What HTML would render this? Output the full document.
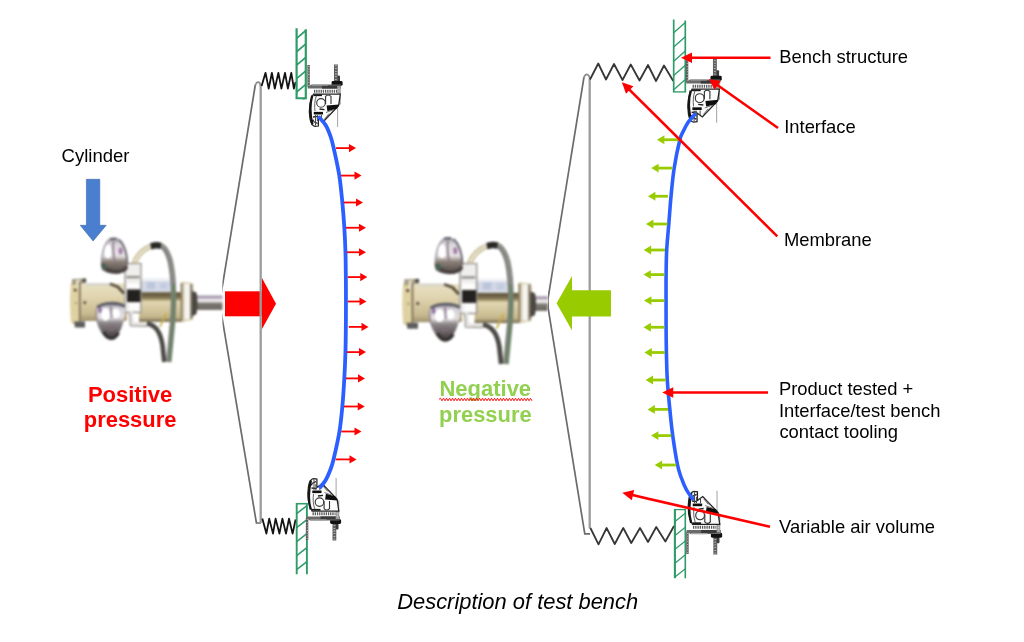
<!DOCTYPE html>
<html lang="en">
<head>
<meta charset="utf-8">
<title>Description of test bench</title>
<style>
html,body{margin:0;padding:0;background:#ffffff;}
body{width:1024px;height:642px;overflow:hidden;position:relative;}
svg{display:block;position:absolute;left:0;top:0;}
text{font-family:"Liberation Sans",Arial,Helvetica,sans-serif;}
</style>
</head>
<body>
<svg width="1024" height="642" viewBox="0 0 1024 642">
<defs>
<filter color-interpolation-filters="sRGB" id="soft2" x="-5%" y="-5%" width="110%" height="110%"><feGaussianBlur stdDeviation="0.8"/></filter>
<filter color-interpolation-filters="sRGB" id="soft3" x="-5%" y="-5%" width="110%" height="110%"><feGaussianBlur stdDeviation="0.35"/></filter>
<linearGradient id="gBody" x1="0" y1="0" x2="0" y2="1"><stop offset="0" stop-color="#e8e0c2"/><stop offset="0.35" stop-color="#e0d5b0"/><stop offset="0.8" stop-color="#c9bb90"/><stop offset="1" stop-color="#a09270"/></linearGradient>
<linearGradient id="gRod" x1="0" y1="0" x2="0" y2="1"><stop offset="0" stop-color="#b8aebc"/><stop offset="0.16" stop-color="#a898ae"/><stop offset="0.3" stop-color="#f0eef0"/><stop offset="0.46" stop-color="#dcdad8"/><stop offset="0.56" stop-color="#7c7872"/><stop offset="1" stop-color="#6a6660"/></linearGradient><linearGradient id="gBand" x1="0" y1="0" x2="0" y2="1"><stop offset="0" stop-color="#5c5238"/><stop offset="0.6" stop-color="#7c7050"/><stop offset="1" stop-color="#c8bb8c"/></linearGradient>
<linearGradient id="gAcc" x1="0" y1="0" x2="0" y2="1"><stop offset="0" stop-color="#8e8a94"/><stop offset="0.18" stop-color="#dcd8de"/><stop offset="0.5" stop-color="#e6e2e4"/><stop offset="0.66" stop-color="#8b8078"/><stop offset="1" stop-color="#4d4442"/></linearGradient>
<linearGradient id="gAcc2" x1="0" y1="0" x2="0" y2="1"><stop offset="0" stop-color="#74727c"/><stop offset="0.16" stop-color="#d4d0d6"/><stop offset="0.42" stop-color="#e2dee2"/><stop offset="0.56" stop-color="#8c8688"/><stop offset="0.8" stop-color="#625c5e"/><stop offset="1" stop-color="#3a3436"/></linearGradient>
<filter color-interpolation-filters="sRGB" id="gs" x="0" y="0" width="1024" height="642" filterUnits="userSpaceOnUse"><feGaussianBlur stdDeviation="0.45"/></filter>
</defs>
<rect x="0" y="0" width="1024" height="642" fill="#ffffff"/>
<g filter="url(#gs)">
<path d="M255.3,85 L219.6,303 L256.4,523 H261" fill="none" stroke="#6c6c6c" stroke-width="1.7"/>
<path d="M255.1,86 Q256.2,82.3 258,82.2 Q260.4,82.3 260.6,86" fill="none" stroke="#8c8c8c" stroke-width="1.7"/>
<g transform="translate(0,0) scale(1,1)">
<rect x="65" y="237" width="157.4" height="125" fill="#ffffff"/>
<g filter="url(#soft2)">
<rect x="193" y="295.3" width="29.5" height="14.6" fill="url(#gRod)"/>
<rect x="79" y="283.5" width="48" height="37.5" rx="2" fill="url(#gBody)"/>
<path d="M71,282.5 Q69,302 71,323 L80,326 L80,280 Z" fill="#dfd2a2"/>
<path d="M72,279 L86,278.5 L86,283 L72,285 Z" fill="#a49c86"/><rect x="82.5" y="278.6" width="3.6" height="3.6" fill="#4c4a48"/>
<path d="M76,280 L80,280 L79.5,289 L76.5,289 Z" fill="#e9e2c8"/>
<rect x="78.8" y="282" width="2" height="42" fill="#8a7c62"/>
<path d="M74,321.5 L85,321.5 L85,327.5 L75,327.5 Z" fill="#5e5c5c"/>
<rect x="86" y="283" width="26" height="2.6" fill="#d6d4cc"/>
<circle cx="84.8" cy="302.6" r="1.6" fill="#6a5a4a"/>
<circle cx="75.2" cy="290" r="1.6" fill="#5a4c40"/>
<circle cx="76" cy="303" r="1.1" fill="#a09070"/>
<path d="M110,283.8 L118,287 L124,293.5" stroke="#5a5040" stroke-width="2.8" fill="none"/>
<rect x="139" y="292" width="46" height="29.5" fill="url(#gBody)"/>
<rect x="141" y="278.5" width="32" height="13.5" fill="#d3d8e6"/>
<rect x="141" y="278.5" width="32" height="2.6" fill="#f0f1f6"/>
<rect x="147" y="282" width="8" height="7" fill="#bcc6dc"/>
<rect x="160" y="283" width="7" height="6" fill="#c4cce0"/>
<rect x="139" y="292.3" width="42" height="8.6" fill="url(#gBand)"/>
<rect x="139" y="319.5" width="44" height="2.4" fill="#857a5c"/>
<path d="M181.5,281.5 L193,283 Q196,301 193,320 L181.5,322 Z" fill="#dcd4b6"/>
<rect x="184.6" y="284" width="5.4" height="35" fill="#f6f4f0"/><rect x="190" y="284" width="2.4" height="35" fill="#8c8474"/>
<rect x="180.6" y="283" width="2" height="38" fill="#8a7f66"/>
<path d="M192,291 L196.5,292.5 Q198.6,302 196.5,314 L192,316.5 Z" fill="#4a4640"/>
<rect x="125" y="263.5" width="16" height="49" fill="#efeeec"/>
<rect x="125" y="263.5" width="16" height="49" fill="none" stroke="#96928e" stroke-width="1.3"/>
<rect x="126.5" y="276" width="13" height="2.2" fill="#8c8884"/>
<rect x="127" y="283" width="12" height="5" fill="#fdfdfd"/>
<rect x="127" y="289.5" width="13.5" height="12.5" fill="#242220"/>
<rect x="129" y="303.5" width="10" height="7" fill="#fdfdfd"/>
<path d="M131,312 L132,324 L148,324.5" fill="none" stroke="#e4e2de" stroke-width="3.6"/>
<path d="M129.4,313 L130.2,326 L147,326.4" fill="none" stroke="#8a8680" stroke-width="1"/>
<path d="M166.4,313 L160,327" fill="none" stroke="#c8ac48" stroke-width="1.8"/>
<path d="M147,323.5 C156,325 160.5,332 162.5,345 L164.3,362" fill="none" stroke="#4c4a46" stroke-width="4.6"/>
<path d="M134,263 C138,254 143,249.5 150,246.5" fill="none" stroke="#c9bf9a" stroke-width="5.2"/>
<path d="M134.4,262 C138.5,254 143.4,249.4 150,246.5" fill="none" stroke="#f2eedc" stroke-width="1.8"/>
<path d="M152,245.8 C161,242.6 166.5,247 170.4,262 C174.2,280 174.2,300 172.6,322 L168.8,362" fill="none" stroke="#7e7d78" stroke-width="5.4"/>
<path d="M158,245 C164,245 167.5,249 170.6,262 C173,273 173.6,284 173.6,292" fill="none" stroke="#b0b2b4" stroke-width="1.5" stroke-dasharray="1.4 1.4"/>
<path d="M173.6,284 C174.4,300 174.2,312 173.2,324 L169.8,361.5" fill="none" stroke="#5c8c5a" stroke-width="1.5"/>
<path d="M150.6,246.4 L156,245.2 L160.8,245.8" fill="none" stroke="#2a2826" stroke-width="6.2"/>
<path d="M109,238.6 C115,236.6 122.5,238.5 125.5,247 C128.4,255.5 129,264 126.5,270.5 C120,275.4 108,274.8 101.8,269.6 C99.4,262 101.4,246 109,238.6 Z" fill="url(#gAcc)"/>
<path d="M102.2,264 C108,273.5 121,274.5 127,267" fill="none" stroke="#4a4240" stroke-width="3.4"/>
<path d="M110,239 L116.5,238.4" fill="none" stroke="#5a5860" stroke-width="2"/>
<path d="M119,239.4 C125,246 127.3,255 127.3,264" fill="none" stroke="#6a6870" stroke-width="1.8"/>
<path d="M108,240.5 C103.5,246 101.8,255 102,262" fill="none" stroke="#9a96a0" stroke-width="1.3"/>
<path d="M113.5,241.5 C112.5,249 113.5,256 115,262" fill="none" stroke="#8a7c88" stroke-width="1.7"/>
<ellipse cx="108" cy="251.5" rx="3.6" ry="7" fill="#ffffff"/>
<ellipse cx="120.6" cy="251" rx="1.9" ry="3.4" fill="#a47aa6"/>
<ellipse cx="104.5" cy="267" rx="2.4" ry="3" fill="#476454"/>
<path d="M97.4,306 C105,300.5 119,301 124.8,306 C126,315 123,328 117,336 C113,340.4 107,340 103.6,335.4 C97,328 94.4,315 97.4,306 Z" fill="url(#gAcc2)"/>
<path d="M103.5,332 C108,340.5 114,340.5 118.6,333" fill="none" stroke="#34302e" stroke-width="3.2"/>
<path d="M97,307.6 C103,302 119,302 124.6,306.6" fill="none" stroke="#5c5a64" stroke-width="2.8"/>
<path d="M96.4,309 C95.4,316 97.6,326 102,332" fill="none" stroke="#8e8690" stroke-width="1.4"/>
<ellipse cx="105.5" cy="314.5" rx="4.6" ry="6.4" fill="#ffffff"/><ellipse cx="116" cy="313.5" rx="4" ry="5" fill="#ffffff"/><path d="M110.8,306 L111.6,318" stroke="#8c7a94" stroke-width="1.6" fill="none"/>
<ellipse cx="100" cy="310" rx="1.6" ry="3" fill="#8a6aa0"/>
<ellipse cx="111" cy="328" rx="4" ry="2.4" fill="#7c6c74"/>
</g>
</g>
<rect x="225" y="291.3" width="37.5" height="25" fill="#ff0000"/>
<line x1="260.7" y1="84.5" x2="260.7" y2="523" stroke="#9c9c9c" stroke-width="2.3"/>
<polygon points="262,278 276,303.7 262,329" fill="#ff0000"/>
<path d="M261.6,86 L265.5,72.8 L268.7,88.6 L271.9,72.8 L274.8,88.6 L278.4,72.8 L281.4,88.6 L285,72.8 L287.9,88.6 L291.3,72.8 L293.9,88.6 L295.6,82" fill="none" stroke="#141414" stroke-width="1.8" stroke-linejoin="round" filter="url(#soft3)"/>
<path d="M262.3,518.6 L266.4,533.6 L269.2,518.6 L273,533.6 L275.6,518.6 L279.4,533.6 L282.4,518.6 L286,533.6 L289,518.6 L292.6,533.6 L295.6,519.5" fill="none" stroke="#141414" stroke-width="1.8" stroke-linejoin="round" filter="url(#soft3)"/>
<clipPath id="hc1"><rect x="293.3" y="27.2" width="15.8" height="72.2"/></clipPath>
<g stroke="#2e9b68" stroke-width="2.2" fill="none" clip-path="url(#hc1)">
<path d="M296.6,28.3 V98.3 H305.8 V29.3"/>
<line x1="296.6" y1="38.3" x2="305.8" y2="30.5" stroke-width="1.72"/>
<line x1="296.6" y1="51.75" x2="305.8" y2="43.95" stroke-width="1.72"/>
<line x1="296.6" y1="65.2" x2="305.8" y2="57.4" stroke-width="1.72"/>
<line x1="296.6" y1="78.65" x2="305.8" y2="70.85" stroke-width="1.72"/>
<line x1="296.6" y1="92.1" x2="305.8" y2="84.3" stroke-width="1.72"/>
<line x1="296.6" y1="105.55" x2="305.8" y2="97.75" stroke-width="1.72"/>
</g>
<clipPath id="hc2"><rect x="293.85" y="502.65" width="15.9" height="71.5"/></clipPath>
<g stroke="#2e9b68" stroke-width="1.9" fill="none" clip-path="url(#hc2)">
<path d="M296.7,575.2 V503.6 H306.9 V575.2"/>
<line x1="296.7" y1="513.6" x2="306.9" y2="505.6" stroke-width="1.48"/>
<line x1="296.7" y1="527.6" x2="306.9" y2="519.6" stroke-width="1.48"/>
<line x1="296.7" y1="541.6" x2="306.9" y2="533.6" stroke-width="1.48"/>
<line x1="296.7" y1="555.6" x2="306.9" y2="547.6" stroke-width="1.48"/>
<line x1="296.7" y1="569.6" x2="306.9" y2="561.6" stroke-width="1.48"/>
</g>
<g transform="translate(306,66) scale(1) translate(-306,-66)">
<rect x="311" y="42" width="26" height="42" fill="#ffffff"/>
<rect x="307.4" y="65" width="2.4" height="22" fill="#5c5c5c"/>
<line x1="308.8" y1="66" x2="308.8" y2="86" stroke="#cccccc" stroke-width="1.2" stroke-dasharray="0.8 1.9"/>
<rect x="334" y="64.5" width="3.8" height="17.5" fill="#5e5e5e"/>
<line x1="335.9" y1="65.5" x2="335.9" y2="81" stroke="#cccccc" stroke-width="1.8" stroke-dasharray="0.8 1.9"/>
<rect x="337.4" y="75.5" width="2.6" height="6.5" rx="1" fill="#3c3c3c"/>
<rect x="331.6" y="81" width="11" height="4.8" rx="1.4" fill="#121212"/>
<path d="M307.8,87 L311.5,84.6 H341 V88.6 H307.8 Z" fill="#6a6a6a"/>
<rect x="322" y="85.6" width="19" height="3" fill="#3a3a3a"/>
<rect x="312" y="84.3" width="16" height="1.3" fill="#a8a8a8"/>
<line x1="314" y1="91.2" x2="337" y2="91.2" stroke="#5a5a5a" stroke-width="3" stroke-dasharray="1.3 0.9"/>
<rect x="337.2" y="86" width="3.6" height="18.5" fill="#a0a0a0"/>
<line x1="339" y1="88" x2="339" y2="102" stroke="#d0d0d0" stroke-width="1" stroke-dasharray="1.2 1.2"/>
<line x1="337.6" y1="104" x2="337.6" y2="127" stroke="#a4a4a4" stroke-width="1"/>
<path d="M313.5,94 C310,100 308.6,110 310,119 C310.8,123 312.5,126 315,126.4 L318.4,126 L318.4,117.5 L323.6,121.3 L338.6,105.6 L340.3,94 Z" fill="#fbfbfb" stroke="#242424" stroke-width="1.25"/>
<path d="M312.2,95.5 C309.8,104 309.8,114 312.4,124.5" fill="none" stroke="#141414" stroke-width="2.3"/>
<path d="M313,117 L318,116.4 M313.4,121.5 L317.6,123.5 M319.5,109 L324.5,109.6" fill="none" stroke="#222" stroke-width="1.3"/>
<path d="M316.3,96 C314.6,101 314.3,106 315,111" fill="none" stroke="#555" stroke-width="0.9"/>
<path d="M313.5,95.2 H322" fill="none" stroke="#1a1a1a" stroke-width="1.8"/>
<circle cx="321" cy="102.9" r="4.3" fill="#ffffff" stroke="#3a3a3a" stroke-width="1.15"/>
<path d="M325.6,104 V96.4 Q328.2,93.6 331,96.4 V104" fill="#ffffff" stroke="#333" stroke-width="1.1"/>
<path d="M326.6,105.6 L339.4,104.6 L336.6,108.8 L327.4,111.2 Z" fill="#0e0e0e"/>
<rect x="313.8" y="111.9" width="9.2" height="2.6" fill="#0e0e0e"/>
<path d="M315.5,115 V125.5 M317.4,115 V121 M321.4,115 V119.5" stroke="#4a4a4a" stroke-width="1" fill="none"/>
<path d="M326,112.5 L333,110 M324.6,119 L329,113.6 M327,117.6 L331,113" stroke="#555" stroke-width="0.8" fill="none"/>
<circle cx="313" cy="120.5" r="1" fill="#1a1a1a"/>
</g>
<g transform="translate(304.5,539) scale(1,-1) translate(-306,-66)">
<rect x="311" y="42" width="26" height="42" fill="#ffffff"/>
<rect x="307.4" y="65" width="2.4" height="22" fill="#5c5c5c"/>
<line x1="308.8" y1="66" x2="308.8" y2="86" stroke="#cccccc" stroke-width="1.2" stroke-dasharray="0.8 1.9"/>
<rect x="334" y="64.5" width="3.8" height="17.5" fill="#5e5e5e"/>
<line x1="335.9" y1="65.5" x2="335.9" y2="81" stroke="#cccccc" stroke-width="1.8" stroke-dasharray="0.8 1.9"/>
<rect x="337.4" y="75.5" width="2.6" height="6.5" rx="1" fill="#3c3c3c"/>
<rect x="331.6" y="81" width="11" height="4.8" rx="1.4" fill="#121212"/>
<path d="M307.8,87 L311.5,84.6 H341 V88.6 H307.8 Z" fill="#6a6a6a"/>
<rect x="322" y="85.6" width="19" height="3" fill="#3a3a3a"/>
<rect x="312" y="84.3" width="16" height="1.3" fill="#a8a8a8"/>
<line x1="314" y1="91.2" x2="337" y2="91.2" stroke="#5a5a5a" stroke-width="3" stroke-dasharray="1.3 0.9"/>
<rect x="337.2" y="86" width="3.6" height="18.5" fill="#a0a0a0"/>
<line x1="339" y1="88" x2="339" y2="102" stroke="#d0d0d0" stroke-width="1" stroke-dasharray="1.2 1.2"/>
<line x1="337.6" y1="104" x2="337.6" y2="127" stroke="#a4a4a4" stroke-width="1"/>
<path d="M313.5,94 C310,100 308.6,110 310,119 C310.8,123 312.5,126 315,126.4 L318.4,126 L318.4,117.5 L323.6,121.3 L338.6,105.6 L340.3,94 Z" fill="#fbfbfb" stroke="#242424" stroke-width="1.25"/>
<path d="M312.2,95.5 C309.8,104 309.8,114 312.4,124.5" fill="none" stroke="#141414" stroke-width="2.3"/>
<path d="M313,117 L318,116.4 M313.4,121.5 L317.6,123.5 M319.5,109 L324.5,109.6" fill="none" stroke="#222" stroke-width="1.3"/>
<path d="M316.3,96 C314.6,101 314.3,106 315,111" fill="none" stroke="#555" stroke-width="0.9"/>
<path d="M313.5,95.2 H322" fill="none" stroke="#1a1a1a" stroke-width="1.8"/>
<circle cx="321" cy="102.9" r="4.3" fill="#ffffff" stroke="#3a3a3a" stroke-width="1.15"/>
<path d="M325.6,104 V96.4 Q328.2,93.6 331,96.4 V104" fill="#ffffff" stroke="#333" stroke-width="1.1"/>
<path d="M326.6,105.6 L339.4,104.6 L336.6,108.8 L327.4,111.2 Z" fill="#0e0e0e"/>
<rect x="313.8" y="111.9" width="9.2" height="2.6" fill="#0e0e0e"/>
<path d="M315.5,115 V125.5 M317.4,115 V121 M321.4,115 V119.5" stroke="#4a4a4a" stroke-width="1" fill="none"/>
<path d="M326,112.5 L333,110 M324.6,119 L329,113.6 M327,117.6 L331,113" stroke="#555" stroke-width="0.8" fill="none"/>
<circle cx="313" cy="120.5" r="1" fill="#1a1a1a"/>
</g>
<path d="M318.9,117.6 C319.98,118.92 323.5,122.27 325.4,125.5 C327.3,128.73 329,133.25 330.3,137 C331.6,140.75 331.79,141.67 333.2,148 C334.61,154.33 337.3,165.92 338.75,175 C340.2,184.08 341.04,193.67 341.9,202.5 C342.76,211.33 343.38,219.75 343.9,228 C344.42,236.25 344.75,243.83 345,252 C345.25,260.17 345.32,268.67 345.4,277 C345.48,285.33 345.5,293.67 345.5,302 C345.5,310.33 345.48,318.67 345.4,327 C345.32,335.33 345.25,343.5 345,352 C344.75,360.5 344.42,368.92 343.9,378 C343.38,387.08 342.72,397.58 341.9,406.5 C341.08,415.42 340.45,422.75 339,431.5 C337.55,440.25 334.73,452.58 333.2,459 C331.67,465.42 331.12,466.5 329.8,470 C328.48,473.5 326.93,477.17 325.3,480 C323.67,482.83 320.88,485.83 320,487" fill="none" stroke="#2b5fff" stroke-width="3.8" transform="translate(0.45,0)" stroke-linecap="round"/>
<line x1="336" y1="148.1" x2="349.5" y2="148.1" stroke="#ff0000" stroke-width="1.8"/><polygon points="356,148.1 349,144 349,152.2" fill="#ff0000"/>
<line x1="341" y1="175.6" x2="355" y2="175.6" stroke="#ff0000" stroke-width="1.8"/><polygon points="361.5,175.6 354.5,171.5 354.5,179.7" fill="#ff0000"/>
<line x1="343.75" y1="202.5" x2="356.5" y2="202.5" stroke="#ff0000" stroke-width="1.8"/><polygon points="363,202.5 356,198.4 356,206.6" fill="#ff0000"/>
<line x1="346" y1="227.75" x2="359.5" y2="227.75" stroke="#ff0000" stroke-width="1.8"/><polygon points="366,227.75 359,223.65 359,231.85" fill="#ff0000"/>
<line x1="347" y1="252.25" x2="359.5" y2="252.25" stroke="#ff0000" stroke-width="1.8"/><polygon points="366,252.25 359,248.15 359,256.35" fill="#ff0000"/>
<line x1="347.75" y1="277.1" x2="360.75" y2="277.1" stroke="#ff0000" stroke-width="1.8"/><polygon points="367.25,277.1 360.25,273 360.25,281.2" fill="#ff0000"/>
<line x1="347.75" y1="301.5" x2="360" y2="301.5" stroke="#ff0000" stroke-width="1.8"/><polygon points="366.5,301.5 359.5,297.4 359.5,305.6" fill="#ff0000"/>
<line x1="348.75" y1="326.9" x2="362" y2="326.9" stroke="#ff0000" stroke-width="1.8"/><polygon points="368.5,326.9 361.5,322.8 361.5,331" fill="#ff0000"/>
<line x1="347" y1="352.1" x2="359.5" y2="352.1" stroke="#ff0000" stroke-width="1.8"/><polygon points="366,352.1 359,348 359,356.2" fill="#ff0000"/>
<line x1="346" y1="378.4" x2="358.5" y2="378.4" stroke="#ff0000" stroke-width="1.8"/><polygon points="365,378.4 358,374.3 358,382.5" fill="#ff0000"/>
<line x1="344" y1="406.5" x2="358.25" y2="406.5" stroke="#ff0000" stroke-width="1.8"/><polygon points="364.75,406.5 357.75,402.4 357.75,410.6" fill="#ff0000"/>
<line x1="341.25" y1="431.5" x2="355" y2="431.5" stroke="#ff0000" stroke-width="1.8"/><polygon points="361.5,431.5 354.5,427.4 354.5,435.6" fill="#ff0000"/>
<line x1="335.6" y1="459.4" x2="350" y2="459.4" stroke="#ff0000" stroke-width="1.8"/><polygon points="356.5,459.4 349.5,455.3 349.5,463.5" fill="#ff0000"/>
<polygon points="86.4,179.3 99.8,179.3 99.8,225.3 106.2,225.3 93.1,241 80.2,225.3 86.4,225.3" fill="#4a7fd0" stroke="#3a66aa" stroke-width="0.6"/>
<text x="61.6" y="162.3" font-size="18.5" fill="#000000">Cylinder</text>
<text x="130.1" y="402" font-size="22" font-weight="bold" fill="#ff0000" text-anchor="middle">Positive</text>
<text x="130.1" y="427.3" font-size="21.9" font-weight="bold" fill="#ff0000" text-anchor="middle">pressure</text>
<path d="M584,77 L548.1,298 V308 L584.8,533.8 H590" fill="none" stroke="#6c6c6c" stroke-width="1.7"/>
<path d="M583.8,78 Q584.8,74.6 586.8,74.4 Q589.4,74.6 589.8,79.5" fill="none" stroke="#8c8c8c" stroke-width="1.7"/>
<line x1="589.7" y1="79" x2="589.7" y2="528.5" stroke="#9c9c9c" stroke-width="2.3"/>
<g transform="translate(328.68,-5.21) scale(1.05,1.02)">
<rect x="65" y="237" width="143.6" height="125" fill="#ffffff"/>
<g filter="url(#soft2)">
<rect x="193" y="295.3" width="15.7" height="14.6" fill="url(#gRod)"/>
<rect x="79" y="283.5" width="48" height="37.5" rx="2" fill="url(#gBody)"/>
<path d="M71,282.5 Q69,302 71,323 L80,326 L80,280 Z" fill="#dfd2a2"/>
<path d="M72,279 L86,278.5 L86,283 L72,285 Z" fill="#a49c86"/><rect x="82.5" y="278.6" width="3.6" height="3.6" fill="#4c4a48"/>
<path d="M76,280 L80,280 L79.5,289 L76.5,289 Z" fill="#e9e2c8"/>
<rect x="78.8" y="282" width="2" height="42" fill="#8a7c62"/>
<path d="M74,321.5 L85,321.5 L85,327.5 L75,327.5 Z" fill="#5e5c5c"/>
<rect x="86" y="283" width="26" height="2.6" fill="#d6d4cc"/>
<circle cx="84.8" cy="302.6" r="1.6" fill="#6a5a4a"/>
<circle cx="75.2" cy="290" r="1.6" fill="#5a4c40"/>
<circle cx="76" cy="303" r="1.1" fill="#a09070"/>
<path d="M110,283.8 L118,287 L124,293.5" stroke="#5a5040" stroke-width="2.8" fill="none"/>
<rect x="139" y="292" width="46" height="29.5" fill="url(#gBody)"/>
<rect x="141" y="278.5" width="32" height="13.5" fill="#d3d8e6"/>
<rect x="141" y="278.5" width="32" height="2.6" fill="#f0f1f6"/>
<rect x="147" y="282" width="8" height="7" fill="#bcc6dc"/>
<rect x="160" y="283" width="7" height="6" fill="#c4cce0"/>
<rect x="139" y="292.3" width="42" height="8.6" fill="url(#gBand)"/>
<rect x="139" y="319.5" width="44" height="2.4" fill="#857a5c"/>
<path d="M181.5,281.5 L193,283 Q196,301 193,320 L181.5,322 Z" fill="#dcd4b6"/>
<rect x="184.6" y="284" width="5.4" height="35" fill="#f6f4f0"/><rect x="190" y="284" width="2.4" height="35" fill="#8c8474"/>
<rect x="180.6" y="283" width="2" height="38" fill="#8a7f66"/>
<path d="M192,291 L196.5,292.5 Q198.6,302 196.5,314 L192,316.5 Z" fill="#4a4640"/>
<rect x="125" y="263.5" width="16" height="49" fill="#efeeec"/>
<rect x="125" y="263.5" width="16" height="49" fill="none" stroke="#96928e" stroke-width="1.3"/>
<rect x="126.5" y="276" width="13" height="2.2" fill="#8c8884"/>
<rect x="127" y="283" width="12" height="5" fill="#fdfdfd"/>
<rect x="127" y="289.5" width="13.5" height="12.5" fill="#242220"/>
<rect x="129" y="303.5" width="10" height="7" fill="#fdfdfd"/>
<path d="M131,312 L132,324 L148,324.5" fill="none" stroke="#e4e2de" stroke-width="3.6"/>
<path d="M129.4,313 L130.2,326 L147,326.4" fill="none" stroke="#8a8680" stroke-width="1"/>
<path d="M166.4,313 L160,327" fill="none" stroke="#c8ac48" stroke-width="1.8"/>
<path d="M147,323.5 C156,325 160.5,332 162.5,345 L164.3,362" fill="none" stroke="#4c4a46" stroke-width="4.6"/>
<path d="M134,263 C138,254 143,249.5 150,246.5" fill="none" stroke="#c9bf9a" stroke-width="5.2"/>
<path d="M134.4,262 C138.5,254 143.4,249.4 150,246.5" fill="none" stroke="#f2eedc" stroke-width="1.8"/>
<path d="M152,245.8 C161,242.6 166.5,247 170.4,262 C174.2,280 174.2,300 172.6,322 L168.8,362" fill="none" stroke="#7e7d78" stroke-width="5.4"/>
<path d="M158,245 C164,245 167.5,249 170.6,262 C173,273 173.6,284 173.6,292" fill="none" stroke="#b0b2b4" stroke-width="1.5" stroke-dasharray="1.4 1.4"/>
<path d="M173.6,284 C174.4,300 174.2,312 173.2,324 L169.8,361.5" fill="none" stroke="#5c8c5a" stroke-width="1.5"/>
<path d="M150.6,246.4 L156,245.2 L160.8,245.8" fill="none" stroke="#2a2826" stroke-width="6.2"/>
<path d="M109,238.6 C115,236.6 122.5,238.5 125.5,247 C128.4,255.5 129,264 126.5,270.5 C120,275.4 108,274.8 101.8,269.6 C99.4,262 101.4,246 109,238.6 Z" fill="url(#gAcc)"/>
<path d="M102.2,264 C108,273.5 121,274.5 127,267" fill="none" stroke="#4a4240" stroke-width="3.4"/>
<path d="M110,239 L116.5,238.4" fill="none" stroke="#5a5860" stroke-width="2"/>
<path d="M119,239.4 C125,246 127.3,255 127.3,264" fill="none" stroke="#6a6870" stroke-width="1.8"/>
<path d="M108,240.5 C103.5,246 101.8,255 102,262" fill="none" stroke="#9a96a0" stroke-width="1.3"/>
<path d="M113.5,241.5 C112.5,249 113.5,256 115,262" fill="none" stroke="#8a7c88" stroke-width="1.7"/>
<ellipse cx="108" cy="251.5" rx="3.6" ry="7" fill="#ffffff"/>
<ellipse cx="120.6" cy="251" rx="1.9" ry="3.4" fill="#a47aa6"/>
<ellipse cx="104.5" cy="267" rx="2.4" ry="3" fill="#476454"/>
<path d="M97.4,306 C105,300.5 119,301 124.8,306 C126,315 123,328 117,336 C113,340.4 107,340 103.6,335.4 C97,328 94.4,315 97.4,306 Z" fill="url(#gAcc2)"/>
<path d="M103.5,332 C108,340.5 114,340.5 118.6,333" fill="none" stroke="#34302e" stroke-width="3.2"/>
<path d="M97,307.6 C103,302 119,302 124.6,306.6" fill="none" stroke="#5c5a64" stroke-width="2.8"/>
<path d="M96.4,309 C95.4,316 97.6,326 102,332" fill="none" stroke="#8e8690" stroke-width="1.4"/>
<ellipse cx="105.5" cy="314.5" rx="4.6" ry="6.4" fill="#ffffff"/><ellipse cx="116" cy="313.5" rx="4" ry="5" fill="#ffffff"/><path d="M110.8,306 L111.6,318" stroke="#8c7a94" stroke-width="1.6" fill="none"/>
<ellipse cx="100" cy="310" rx="1.6" ry="3" fill="#8a6aa0"/>
<ellipse cx="111" cy="328" rx="4" ry="2.4" fill="#7c6c74"/>
</g>
</g>
<polygon points="556.6,303.2 572,276 572,290.2 611,290.2 611,316.4 572,316.4 572,330.5" fill="#99cc00"/>
<path d="M590,79.5 L598.25,63.5 L606,79.5 L614,64 L622.5,80 L630.75,64.5 L639.5,80.5 L648,65 L656,81 L664,65.5 L673.25,81" fill="none" stroke="#363636" stroke-width="1.8" stroke-linejoin="round" filter="url(#soft3)"/>
<path d="M590.4,528 L598.5,544.4 L606.6,528 L614.75,544 L623.25,528 L631.25,543 L640,528 L648,542 L656.25,527 L665.4,541.5 L674,526" fill="none" stroke="#363636" stroke-width="1.8" stroke-linejoin="round" filter="url(#soft3)"/>
<clipPath id="hc3"><rect x="671.15" y="18.75" width="16.7" height="74.1"/></clipPath>
<g stroke="#2e9b68" stroke-width="1.7" fill="none" clip-path="url(#hc3)">
<path d="M673.7,19.6 V92 H685.3 V20.6"/>
<line x1="673.7" y1="32.8" x2="685.3" y2="22.5" stroke-width="1.33"/>
<line x1="673.7" y1="47.05" x2="685.3" y2="36.75" stroke-width="1.33"/>
<line x1="673.7" y1="61.3" x2="685.3" y2="51" stroke-width="1.33"/>
<line x1="673.7" y1="75.55" x2="685.3" y2="65.25" stroke-width="1.33"/>
<line x1="673.7" y1="89.8" x2="685.3" y2="79.5" stroke-width="1.33"/>
</g>
<clipPath id="hc4"><rect x="672.6" y="508.7" width="15.1" height="69.6"/></clipPath>
<g stroke="#2e9b68" stroke-width="1.6" fill="none" clip-path="url(#hc4)">
<path d="M675,579.5 V509.5 H685.3 V579.5"/>
<line x1="675" y1="521.6" x2="685.3" y2="513.3" stroke-width="1.25"/>
<line x1="675" y1="535.45" x2="685.3" y2="527.15" stroke-width="1.25"/>
<line x1="675" y1="549.3" x2="685.3" y2="541" stroke-width="1.25"/>
<line x1="675" y1="563.15" x2="685.3" y2="554.85" stroke-width="1.25"/>
<line x1="675" y1="577" x2="685.3" y2="568.7" stroke-width="1.25"/>
</g>
<line x1="674.8" y1="509" x2="674.8" y2="578" stroke="#2e9b68" stroke-width="1.9"/>
<g transform="translate(684.4,60.5) scale(1.02) translate(-306,-66)">
<rect x="311" y="42" width="26" height="42" fill="#ffffff"/>
<rect x="307.4" y="65" width="2.4" height="22" fill="#5c5c5c"/>
<line x1="308.8" y1="66" x2="308.8" y2="86" stroke="#cccccc" stroke-width="1.2" stroke-dasharray="0.8 1.9"/>
<rect x="334" y="64.5" width="3.8" height="17.5" fill="#5e5e5e"/>
<line x1="335.9" y1="65.5" x2="335.9" y2="81" stroke="#cccccc" stroke-width="1.8" stroke-dasharray="0.8 1.9"/>
<rect x="337.4" y="75.5" width="2.6" height="6.5" rx="1" fill="#3c3c3c"/>
<rect x="331.6" y="81" width="11" height="4.8" rx="1.4" fill="#121212"/>
<path d="M307.8,87 L311.5,84.6 H341 V88.6 H307.8 Z" fill="#6a6a6a"/>
<rect x="322" y="85.6" width="19" height="3" fill="#3a3a3a"/>
<rect x="312" y="84.3" width="16" height="1.3" fill="#a8a8a8"/>
<line x1="314" y1="91.2" x2="337" y2="91.2" stroke="#5a5a5a" stroke-width="3" stroke-dasharray="1.3 0.9"/>
<rect x="337.2" y="86" width="3.6" height="18.5" fill="#a0a0a0"/>
<line x1="339" y1="88" x2="339" y2="102" stroke="#d0d0d0" stroke-width="1" stroke-dasharray="1.2 1.2"/>
<line x1="337.6" y1="104" x2="337.6" y2="127" stroke="#a4a4a4" stroke-width="1"/>
<path d="M313.5,94 C310,100 308.6,110 310,119 C310.8,123 312.5,126 315,126.4 L318.4,126 L318.4,117.5 L323.6,121.3 L338.6,105.6 L340.3,94 Z" fill="#fbfbfb" stroke="#242424" stroke-width="1.25"/>
<path d="M312.2,95.5 C309.8,104 309.8,114 312.4,124.5" fill="none" stroke="#141414" stroke-width="2.3"/>
<path d="M313,117 L318,116.4 M313.4,121.5 L317.6,123.5 M319.5,109 L324.5,109.6" fill="none" stroke="#222" stroke-width="1.3"/>
<path d="M316.3,96 C314.6,101 314.3,106 315,111" fill="none" stroke="#555" stroke-width="0.9"/>
<path d="M313.5,95.2 H322" fill="none" stroke="#1a1a1a" stroke-width="1.8"/>
<circle cx="321" cy="102.9" r="4.3" fill="#ffffff" stroke="#3a3a3a" stroke-width="1.15"/>
<path d="M325.6,104 V96.4 Q328.2,93.6 331,96.4 V104" fill="#ffffff" stroke="#333" stroke-width="1.1"/>
<path d="M326.6,105.6 L339.4,104.6 L336.6,108.8 L327.4,111.2 Z" fill="#0e0e0e"/>
<rect x="313.8" y="111.9" width="9.2" height="2.6" fill="#0e0e0e"/>
<path d="M315.5,115 V125.5 M317.4,115 V121 M321.4,115 V119.5" stroke="#4a4a4a" stroke-width="1" fill="none"/>
<path d="M326,112.5 L333,110 M324.6,119 L329,113.6 M327,117.6 L331,113" stroke="#555" stroke-width="0.8" fill="none"/>
<circle cx="313" cy="120.5" r="1" fill="#1a1a1a"/>
</g>
<g transform="translate(684.8,553) scale(1.02,-1.02) translate(-306,-66)">
<rect x="311" y="42" width="26" height="42" fill="#ffffff"/>
<rect x="307.4" y="65" width="2.4" height="22" fill="#5c5c5c"/>
<line x1="308.8" y1="66" x2="308.8" y2="86" stroke="#cccccc" stroke-width="1.2" stroke-dasharray="0.8 1.9"/>
<rect x="334" y="64.5" width="3.8" height="17.5" fill="#5e5e5e"/>
<line x1="335.9" y1="65.5" x2="335.9" y2="81" stroke="#cccccc" stroke-width="1.8" stroke-dasharray="0.8 1.9"/>
<rect x="337.4" y="75.5" width="2.6" height="6.5" rx="1" fill="#3c3c3c"/>
<rect x="331.6" y="81" width="11" height="4.8" rx="1.4" fill="#121212"/>
<path d="M307.8,87 L311.5,84.6 H341 V88.6 H307.8 Z" fill="#6a6a6a"/>
<rect x="322" y="85.6" width="19" height="3" fill="#3a3a3a"/>
<rect x="312" y="84.3" width="16" height="1.3" fill="#a8a8a8"/>
<line x1="314" y1="91.2" x2="337" y2="91.2" stroke="#5a5a5a" stroke-width="3" stroke-dasharray="1.3 0.9"/>
<rect x="337.2" y="86" width="3.6" height="18.5" fill="#a0a0a0"/>
<line x1="339" y1="88" x2="339" y2="102" stroke="#d0d0d0" stroke-width="1" stroke-dasharray="1.2 1.2"/>
<line x1="337.6" y1="104" x2="337.6" y2="127" stroke="#a4a4a4" stroke-width="1"/>
<path d="M313.5,94 C310,100 308.6,110 310,119 C310.8,123 312.5,126 315,126.4 L318.4,126 L318.4,117.5 L323.6,121.3 L338.6,105.6 L340.3,94 Z" fill="#fbfbfb" stroke="#242424" stroke-width="1.25"/>
<path d="M312.2,95.5 C309.8,104 309.8,114 312.4,124.5" fill="none" stroke="#141414" stroke-width="2.3"/>
<path d="M313,117 L318,116.4 M313.4,121.5 L317.6,123.5 M319.5,109 L324.5,109.6" fill="none" stroke="#222" stroke-width="1.3"/>
<path d="M316.3,96 C314.6,101 314.3,106 315,111" fill="none" stroke="#555" stroke-width="0.9"/>
<path d="M313.5,95.2 H322" fill="none" stroke="#1a1a1a" stroke-width="1.8"/>
<circle cx="321" cy="102.9" r="4.3" fill="#ffffff" stroke="#3a3a3a" stroke-width="1.15"/>
<path d="M325.6,104 V96.4 Q328.2,93.6 331,96.4 V104" fill="#ffffff" stroke="#333" stroke-width="1.1"/>
<path d="M326.6,105.6 L339.4,104.6 L336.6,108.8 L327.4,111.2 Z" fill="#0e0e0e"/>
<rect x="313.8" y="111.9" width="9.2" height="2.6" fill="#0e0e0e"/>
<path d="M315.5,115 V125.5 M317.4,115 V121 M321.4,115 V119.5" stroke="#4a4a4a" stroke-width="1" fill="none"/>
<path d="M326,112.5 L333,110 M324.6,119 L329,113.6 M327,117.6 L331,113" stroke="#555" stroke-width="0.8" fill="none"/>
<circle cx="313" cy="120.5" r="1" fill="#1a1a1a"/>
</g>
<path d="M695,114.4 C693.87,115.75 690.1,119.73 688.2,122.5 C686.3,125.27 684.97,128.08 683.6,131 C682.23,133.92 681.53,133.83 680,140 C678.47,146.17 675.86,158.67 674.4,168 C672.94,177.33 672.15,186.67 671.25,196 C670.35,205.33 669.73,215 669,224 C668.27,233 667.35,241.5 666.9,250 C666.45,258.5 666.41,266.33 666.3,275 C666.19,283.67 666.25,293.17 666.25,302 C666.25,310.83 666.24,319.67 666.3,328 C666.36,336.33 666.4,343.33 666.6,352 C666.8,360.67 666.93,370.5 667.5,380 C668.07,389.5 669.08,399.67 670,409 C670.92,418.33 671.71,426.67 673,436 C674.29,445.33 676.32,458 677.75,465 C679.18,472 680.14,473.92 681.6,478 C683.06,482.08 684.63,486.03 686.5,489.5 C688.37,492.97 691.75,497.25 692.8,498.8" fill="none" stroke="#2b5fff" stroke-width="3.6" transform="translate(-0.2,0)" stroke-linecap="round"/>
<line x1="678.75" y1="139.75" x2="663.9" y2="139.75" stroke="#99cc00" stroke-width="2.8"/><polygon points="657,139.75 664.4,135.35 664.4,144.15" fill="#99cc00"/>
<line x1="672.5" y1="168.1" x2="658.15" y2="168.1" stroke="#99cc00" stroke-width="2.8"/><polygon points="651.25,168.1 658.65,163.7 658.65,172.5" fill="#99cc00"/>
<line x1="668" y1="196.25" x2="654.9" y2="196.25" stroke="#99cc00" stroke-width="2.8"/><polygon points="648,196.25 655.4,191.85 655.4,200.65" fill="#99cc00"/>
<line x1="667.5" y1="224" x2="652.9" y2="224" stroke="#99cc00" stroke-width="2.8"/><polygon points="646,224 653.4,219.6 653.4,228.4" fill="#99cc00"/>
<line x1="665" y1="250" x2="650.65" y2="250" stroke="#99cc00" stroke-width="2.8"/><polygon points="643.75,250 651.15,245.6 651.15,254.4" fill="#99cc00"/>
<line x1="664.4" y1="274.6" x2="650.4" y2="274.6" stroke="#99cc00" stroke-width="2.8"/><polygon points="643.5,274.6 650.9,270.2 650.9,279" fill="#99cc00"/>
<line x1="664.4" y1="300.6" x2="650.9" y2="300.6" stroke="#99cc00" stroke-width="2.8"/><polygon points="644,300.6 651.4,296.2 651.4,305" fill="#99cc00"/>
<line x1="664.4" y1="327.25" x2="650.4" y2="327.25" stroke="#99cc00" stroke-width="2.8"/><polygon points="643.5,327.25 650.9,322.85 650.9,331.65" fill="#99cc00"/>
<line x1="665" y1="352.5" x2="651.3" y2="352.5" stroke="#99cc00" stroke-width="2.8"/><polygon points="644.4,352.5 651.8,348.1 651.8,356.9" fill="#99cc00"/>
<line x1="665.6" y1="380" x2="652.5" y2="380" stroke="#99cc00" stroke-width="2.8"/><polygon points="645.6,380 653,375.6 653,384.4" fill="#99cc00"/>
<line x1="668" y1="409.4" x2="654.4" y2="409.4" stroke="#99cc00" stroke-width="2.8"/><polygon points="647.5,409.4 654.9,405 654.9,413.8" fill="#99cc00"/>
<line x1="671.25" y1="435.6" x2="657.9" y2="435.6" stroke="#99cc00" stroke-width="2.8"/><polygon points="651,435.6 658.4,431.2 658.4,440" fill="#99cc00"/>
<line x1="676.25" y1="465" x2="661.65" y2="465" stroke="#99cc00" stroke-width="2.8"/><polygon points="654.75,465 662.15,460.6 662.15,469.4" fill="#99cc00"/>
<line x1="770.5" y1="57.7" x2="691.5" y2="57.7" stroke="#ff0000" stroke-width="2.6"/><polygon points="681,57.7 692,52.45 692,62.95" fill="#ff0000"/>
<line x1="778" y1="128" x2="717.32" y2="85.06" stroke="#ff0000" stroke-width="2.6"/><polygon points="708.75,79 720.76,81.07 714.7,89.64" fill="#ff0000"/>
<line x1="777.3" y1="236.4" x2="629.36" y2="89.69" stroke="#ff0000" stroke-width="2.6"/><polygon points="621.9,82.3 633.41,86.32 626.01,93.77" fill="#ff0000"/>
<line x1="768" y1="392.5" x2="672.75" y2="392.5" stroke="#ff0000" stroke-width="2.6"/><polygon points="662.25,392.5 673.25,387.25 673.25,397.75" fill="#ff0000"/>
<line x1="770" y1="526.8" x2="632.48" y2="495.06" stroke="#ff0000" stroke-width="2.6"/><polygon points="622.25,492.7 634.15,490.06 631.79,500.29" fill="#ff0000"/>
<text x="779.3" y="62.7" font-size="18.4" fill="#000000">Bench structure</text>
<text x="784.2" y="132.7" font-size="18.4" fill="#000000">Interface</text>
<text x="783.9" y="245.8" font-size="18.4" fill="#000000">Membrane</text>
<text x="778.9" y="395" font-size="18.4" fill="#000000">Product tested +</text>
<text x="778.9" y="416.9" font-size="18.4" fill="#000000">Interface/test bench</text>
<text x="779.4" y="437.6" font-size="18.4" fill="#000000">contact tooling</text>
<text x="779" y="533.2" font-size="18.4" fill="#000000">Variable air volume</text>
<text x="439.4" y="395.5" font-size="22" font-weight="bold" fill="#92d050">Negative</text>
<text x="439.1" y="422.2" font-size="21.9" font-weight="bold" fill="#92d050">pressure</text>
<path d="M439,399.3 L440.5,398.2 L442,400.8 L443.5,398.2 L445,400.8 L446.5,398.2 L448,400.8 L449.5,398.2 L451,400.8 L452.5,398.2 L454,400.8 L455.5,398.2 L457,400.8 L458.5,398.2 L460,400.8 L461.5,398.2 L463,400.8 L464.5,398.2 L466,400.8 L467.5,398.2 L469,400.8 L470.5,398.2 L472,400.8 L473.5,398.2 L475,400.8 L476.5,398.2 L478,400.8 L479.5,398.2 L481,400.8 L482.5,398.2 L484,400.8 L485.5,398.2 L487,400.8 L488.5,398.2 L490,400.8 L491.5,398.2 L493,400.8 L494.5,398.2 L496,400.8 L497.5,398.2 L499,400.8 L500.5,398.2 L502,400.8 L503.5,398.2 L505,400.8 L506.5,398.2 L508,400.8 L509.5,398.2 L511,400.8 L512.5,398.2 L514,400.8 L515.5,398.2 L517,400.8 L518.5,398.2 L520,400.8 L521.5,398.2 L523,400.8 L524.5,398.2 L526,400.8 L527.5,398.2 L529,400.8 L530.5,398.2 L532,400.8" fill="none" stroke="#ff1010" stroke-width="1"/>
<text x="517.7" y="609.4" font-size="21.9" font-style="italic" fill="#000000" text-anchor="middle">Description of test bench</text>
</g>
</svg>
</body>
</html>
